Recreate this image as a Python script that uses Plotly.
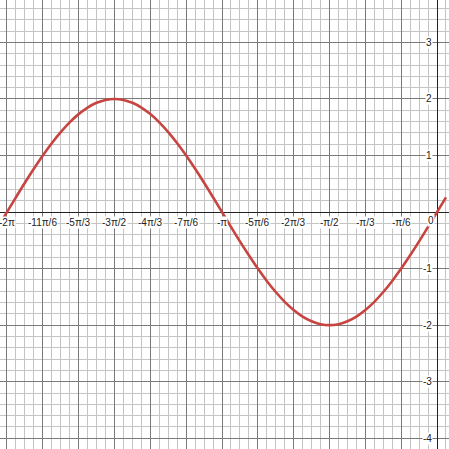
import math
import plotly.graph_objects as go

# x positions in units of pi/24, y values
k_vals = list(range(-49, 2))
y_vals = [-0.261,
          0, 0.261, 0.518, 0.765, 1.0, 1.218, 1.414, 1.587, 1.732, 1.848, 1.932, 1.983, 2.0,
          1.983, 1.932, 1.848, 1.732, 1.587, 1.414, 1.218, 1.0, 0.765, 0.518, 0.261, 0,
          -0.261, -0.518, -0.765, -1.0, -1.218, -1.414, -1.587, -1.732, -1.848, -1.932, -1.983, -2.0,
          -1.983, -1.932, -1.848, -1.732, -1.587, -1.414, -1.218, -1.0, -0.765, -0.518, -0.261, 0,
          0.261]
x_labels = ["-2π", "-11π/6", "-5π/3", "-3π/2", "-4π/3", "-7π/6", "-π",
            "-5π/6", "-2π/3", "-π/2", "-π/3", "-π/6"]
x_label_mult = [-12, -11, -10, -9, -8, -7, -6, -5, -4, -3, -2, -1]  # units of pi/6
y_ticks = [3, 2, 1, -1, -2, -3, -4]

xs = [k * math.pi / 24 for k in k_vals]
fig = go.Figure(go.Scatter(x=xs, y=y_vals, mode="lines", line_shape="spline",
                           line=dict(color="#c74440", width=2.6), hoverinfo="skip"))

x0, x1 = -6.385, 0.175
y0, y1 = -4.19, 3.75
ann = []
for m, t in zip(x_label_mult, x_labels):
    ann.append(dict(x=m * math.pi / 6, y=0, text=t, showarrow=False, yshift=-10,
                    font=dict(size=10, color="#222"), bgcolor="white", borderpad=0))
for v in y_ticks:
    ann.append(dict(x=0, y=v, text=str(v), showarrow=False, xanchor="right", xshift=-4,
                    font=dict(size=10, color="#222"), bgcolor="white", borderpad=0))
ann.append(dict(x=0, y=0, text="0", showarrow=False, xanchor="right", yanchor="top",
                xshift=-2, yshift=-2, font=dict(size=10, color="#222"), bgcolor="white", borderpad=0))

fig.update_layout(
    width=449, height=449, margin=dict(l=0, r=0, t=0, b=0),
    plot_bgcolor="white", paper_bgcolor="white", showlegend=False,
    font=dict(family="Liberation Sans, Arial"),
    annotations=ann,
    xaxis=dict(range=[x0, x1], tick0=0, dtick=math.pi / 6, showticklabels=False,
               gridcolor="#7a7a7a", gridwidth=1, zeroline=True, zerolinecolor="#222", zerolinewidth=1.3,
               minor=dict(tick0=0, dtick=math.pi / 24, showgrid=True, gridcolor="#c4c4c4", gridwidth=1),
               fixedrange=True),
    yaxis=dict(range=[y0, y1], tick0=0, dtick=1, showticklabels=False,
               gridcolor="#7a7a7a", gridwidth=1, zeroline=True, zerolinecolor="#222", zerolinewidth=1.3,
               minor=dict(tick0=0, dtick=0.2, showgrid=True, gridcolor="#c4c4c4", gridwidth=1),
               fixedrange=True),
)
fig.write_html("out.html", config={"displayModeBar": False},
               post_script="document.body.style.margin='0';document.body.style.overflow='hidden';")
